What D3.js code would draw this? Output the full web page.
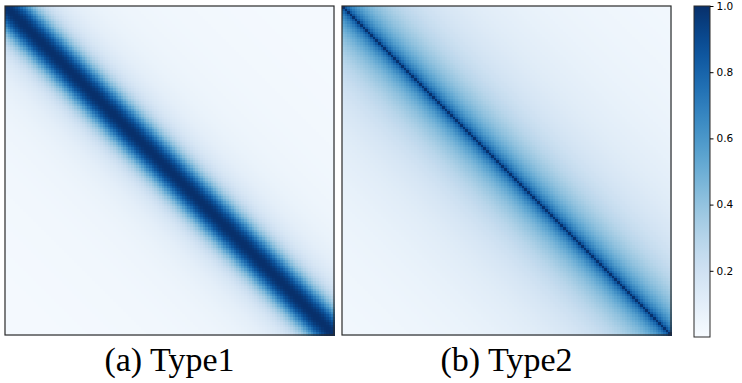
<!DOCTYPE html>
<html>
<head>
<meta charset="UTF-8">
<title>Type1 / Type2</title>
<script src="https://cdn.jsdelivr.net/npm/d3@7"></script>
<style>
	body { margin: 0; background: #fff; }
	.caption { font-family: "Liberation Serif", "Times New Roman", serif; font-size: 34px; fill: #000; }
	.cbar text { font-family: "DejaVu Sans", sans-serif; font-size: 10.5px; fill: #000; }
</style>
</head>
<body>
<svg id="chart" width="742" height="383"></svg>
<script>
	// value vs. distance from the diagonal |i - j| (offsets 0..127)
	var type1Profile = [
		1.00, 0.995, 0.98, 0.95, 0.91, 0.86, 0.79, 0.72, 0.64, 0.57,
		0.50, 0.44, 0.39, 0.345, 0.305, 0.27, 0.24, 0.215, 0.195, 0.178,
		0.163, 0.15, 0.14, 0.13, 0.122, 0.114, 0.107, 0.101, 0.096, 0.091,
		0.087, 0.083, 0.079, 0.075, 0.072, 0.069, 0.066, 0.063, 0.061, 0.059,
		0.057, 0.055, 0.053, 0.051, 0.050, 0.048, 0.047, 0.046, 0.045, 0.044,
		0.043, 0.042, 0.041, 0.040, 0.039, 0.038, 0.037, 0.036, 0.036, 0.035,
		0.034, 0.034, 0.033, 0.032, 0.032, 0.031, 0.031, 0.030, 0.030, 0.029,
		0.029, 0.028, 0.028, 0.027, 0.027, 0.026, 0.026, 0.026, 0.025, 0.025,
		0.024, 0.024, 0.024, 0.023, 0.023, 0.023, 0.022, 0.022, 0.022, 0.021,
		0.021, 0.021, 0.020, 0.020, 0.020, 0.020, 0.019, 0.019, 0.019, 0.019,
		0.018, 0.018, 0.018, 0.018, 0.017, 0.017, 0.017, 0.017, 0.016, 0.016,
		0.016, 0.016, 0.016, 0.015, 0.015, 0.015, 0.015, 0.015, 0.014, 0.014,
		0.014, 0.014, 0.014, 0.013, 0.013, 0.013, 0.013, 0.013
	];
	var type2Profile = [
		1.00, 0.85, 0.77, 0.71, 0.66, 0.62, 0.58, 0.55, 0.52, 0.495,
		0.47, 0.45, 0.43, 0.41, 0.395, 0.38, 0.365, 0.35, 0.335, 0.32,
		0.31, 0.295, 0.285, 0.275, 0.265, 0.255, 0.245, 0.237, 0.229, 0.221,
		0.213, 0.206, 0.20, 0.194, 0.188, 0.182, 0.177, 0.172, 0.167, 0.162,
		0.157, 0.153, 0.149, 0.145, 0.141, 0.137, 0.133, 0.13, 0.127, 0.124,
		0.121, 0.118, 0.115, 0.112, 0.109, 0.106, 0.104, 0.102, 0.10, 0.098,
		0.096, 0.094, 0.092, 0.09, 0.088, 0.086, 0.084, 0.082, 0.08, 0.078,
		0.077, 0.075, 0.074, 0.072, 0.071, 0.069, 0.068, 0.066, 0.065, 0.064,
		0.062, 0.061, 0.06, 0.059, 0.058, 0.057, 0.056, 0.055, 0.054, 0.053,
		0.052, 0.051, 0.05, 0.049, 0.048, 0.047, 0.046, 0.046, 0.045, 0.044,
		0.043, 0.043, 0.042, 0.041, 0.041, 0.04, 0.039, 0.039, 0.038, 0.038,
		0.037, 0.036, 0.036, 0.035, 0.035, 0.034, 0.034, 0.033, 0.033, 0.032,
		0.032, 0.031, 0.031, 0.03, 0.03, 0.03, 0.029, 0.029
	];
	var captions = ["(a) Type1", "(b) Type2"];
	var cbarTicks = [0.2, 0.4, 0.6, 0.8, 1.0];

	var svg = d3.select("#chart");
	var N = type1Profile.length;
	var idx = d3.range(N);
	var color = d3.scaleSequential(d3.interpolateBlues).domain([0, 1]);

	var panels = [
		{ profile: type1Profile, caption: captions[0], left: 5 },
		{ profile: type2Profile, caption: captions[1], left: 342 }
	];
	var mapTop = 6, size = 329;

	panels.forEach(function(p) {
		var x = d3.scaleBand().domain(idx).range([p.left, p.left + size]);
		var y = d3.scaleBand().domain(idx).range([mapTop, mapTop + size]);
		var cells = [];
		idx.forEach(function(i) {
			idx.forEach(function(j) {
				cells.push({ i: i, j: j, v: p.profile[Math.abs(i - j)] });
			});
		});
		var g = svg.append("g").attr("shape-rendering", "crispEdges");
		g.selectAll("rect").data(cells).enter().append("rect")
			.attr("x", function(d) { return x(d.j); })
			.attr("y", function(d) { return y(d.i); })
			.attr("width", x.bandwidth() + 0.5)
			.attr("height", y.bandwidth() + 0.5)
			.attr("fill", function(d) { return color(d.v); });
		// frame
		svg.append("rect")
			.attr("x", p.left).attr("y", mapTop)
			.attr("width", size).attr("height", size)
			.attr("fill", "none").attr("stroke", "#2a2a2a").attr("stroke-width", 1.2);
		svg.append("text").attr("class", "caption")
			.attr("x", p.left + size / 2).attr("y", 371)
			.attr("text-anchor", "middle")
			.text(p.caption);
	});

	// colour bar
	var cbX = 694, cbW = 16, cbTop = 6, cbBot = 337;
	var cbScale = d3.scaleLinear().domain([0, 1]).range([cbBot, cbTop]);
	var defs = svg.append("defs");
	var grad = defs.append("linearGradient").attr("id", "cbGrad")
		.attr("x1", 0).attr("y1", 1).attr("x2", 0).attr("y2", 0);
	d3.range(0, 1.0001, 0.05).forEach(function(t) {
		grad.append("stop").attr("offset", t).attr("stop-color", color(t));
	});
	var cb = svg.append("g").attr("class", "cbar");
	cb.append("rect")
		.attr("x", cbX).attr("y", cbTop)
		.attr("width", cbW).attr("height", cbBot - cbTop)
		.attr("fill", "url(#cbGrad)")
		.attr("stroke", "#2a2a2a").attr("stroke-width", 1);
	var axis = d3.axisRight(cbScale).tickValues(cbarTicks)
		.tickFormat(d3.format(".1f")).tickSize(3.5).tickPadding(3);
	cb.append("g").attr("transform", "translate(" + (cbX + cbW) + ",0)")
		.call(axis)
		.call(function(g) { g.select(".domain").remove(); });
</script>
</body>
</html>
